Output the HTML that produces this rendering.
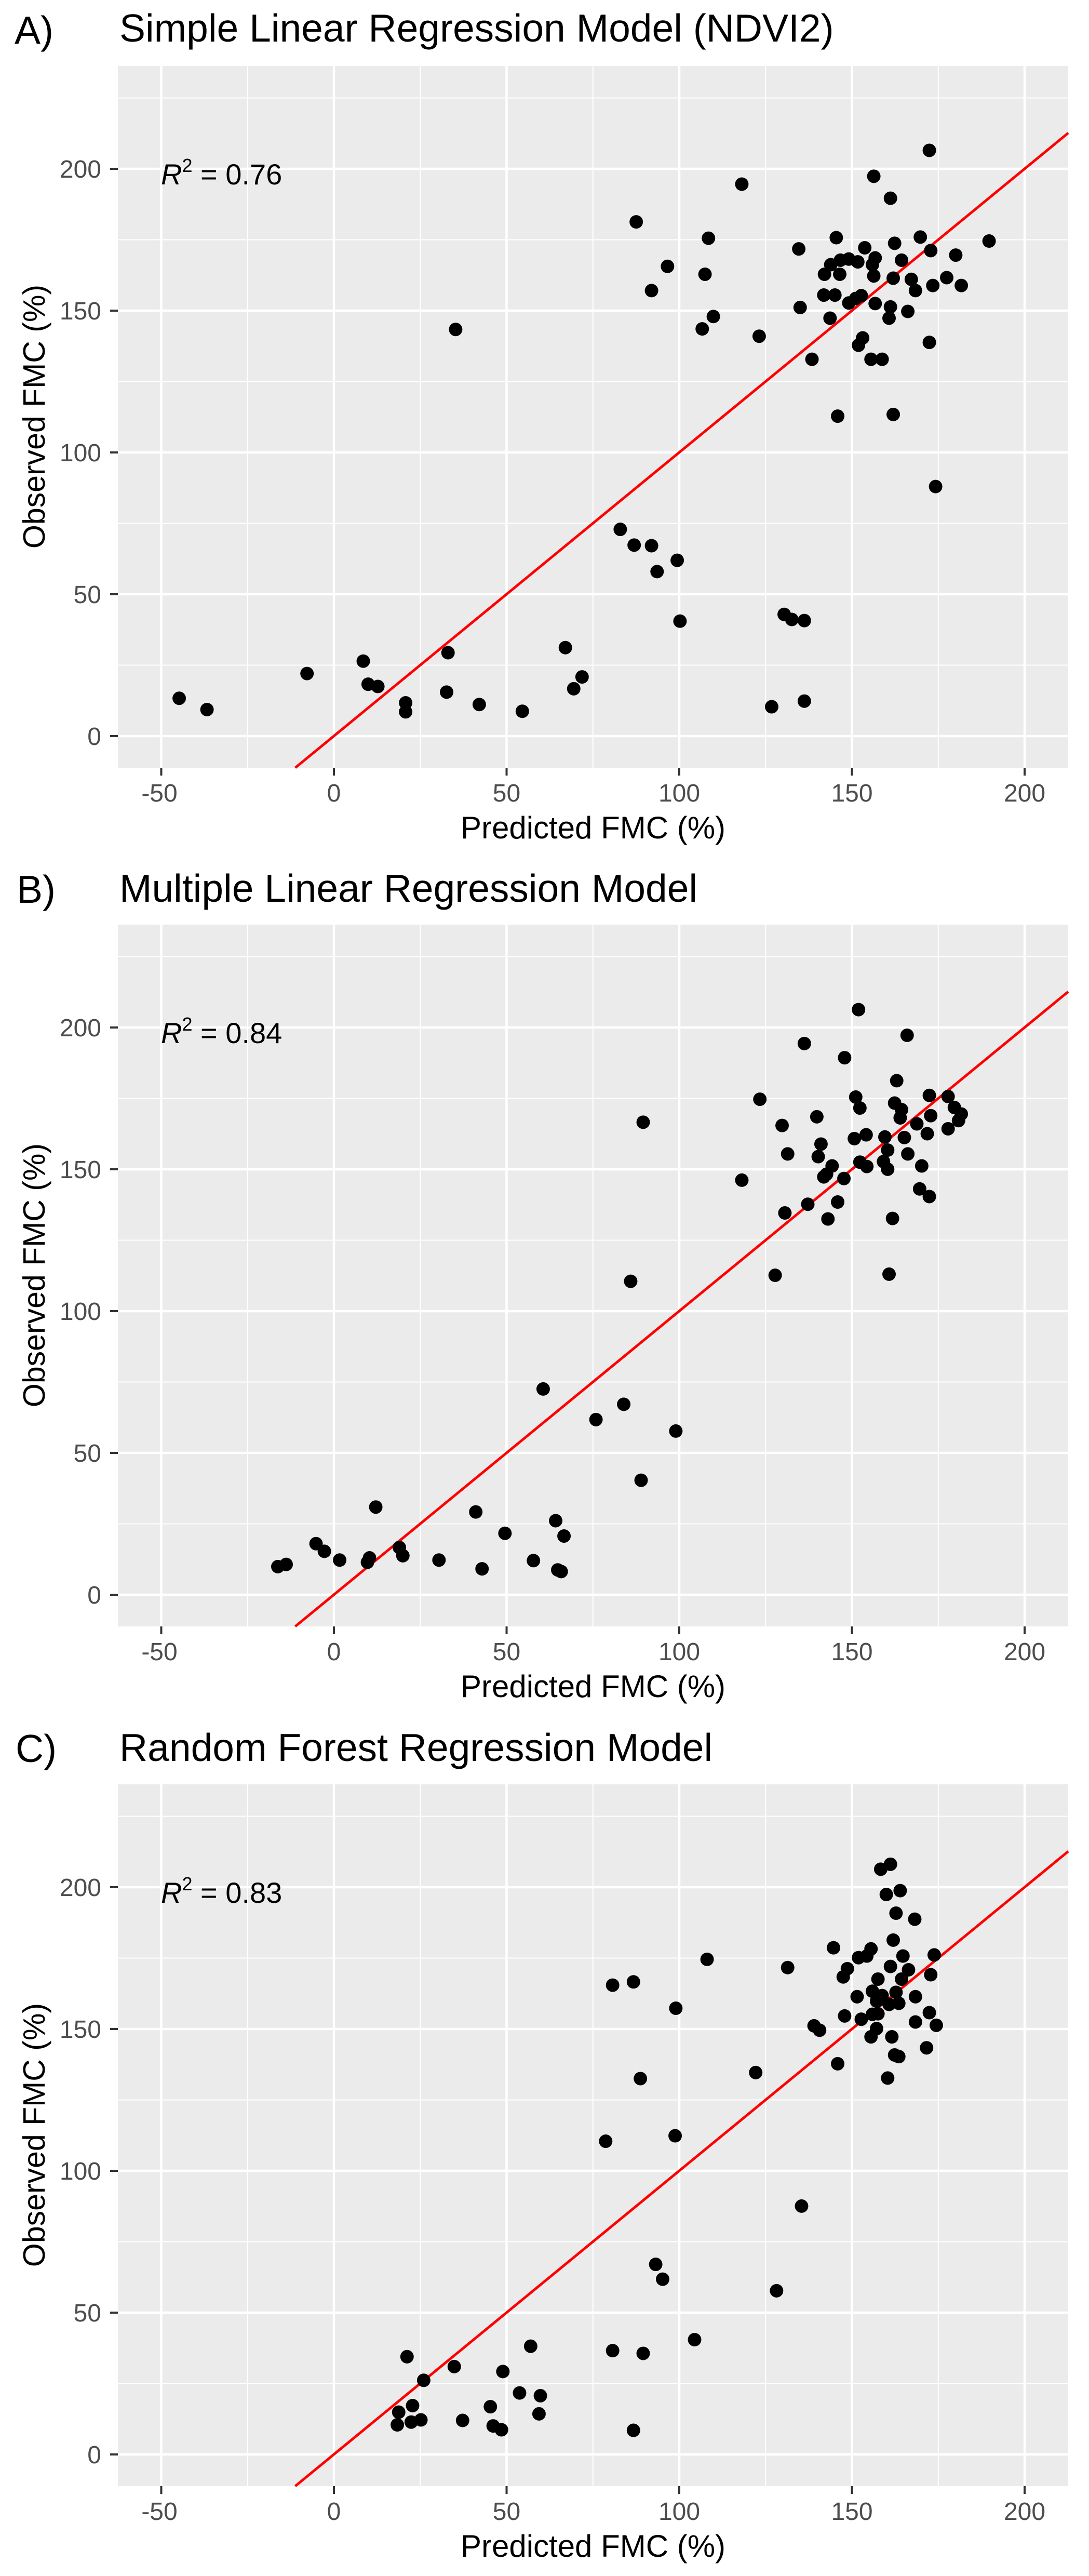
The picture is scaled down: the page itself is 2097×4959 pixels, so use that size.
<!DOCTYPE html>
<html><head><meta charset="utf-8"><style>
html,body{margin:0;padding:0;background:#fff;}
svg{display:block;}
text{font-family:"Liberation Sans",Arial,sans-serif;}
</style></head><body>
<svg width="2097" height="4959" viewBox="0 0 2097 4959" xmlns="http://www.w3.org/2000/svg">
<defs>
<g id="frame">
  <rect x="227" y="127" width="1830" height="1351" fill="#EBEBEB"/>
  <g stroke="#fff" stroke-width="2">
    <line x1="476.75" y1="127" x2="476.75" y2="1478"/>
    <line x1="809.25" y1="127" x2="809.25" y2="1478"/>
    <line x1="1141.75" y1="127" x2="1141.75" y2="1478"/>
    <line x1="1474.25" y1="127" x2="1474.25" y2="1478"/>
    <line x1="1806.75" y1="127" x2="1806.75" y2="1478"/>
    <line x1="227" y1="1280.5" x2="2057" y2="1280.5"/>
    <line x1="227" y1="1007.5" x2="2057" y2="1007.5"/>
    <line x1="227" y1="734.5" x2="2057" y2="734.5"/>
    <line x1="227" y1="461.5" x2="2057" y2="461.5"/>
    <line x1="227" y1="188.5" x2="2057" y2="188.5"/>
  </g>
  <g stroke="#fff" stroke-width="4.5">
    <line x1="310.5" y1="127" x2="310.5" y2="1478"/>
    <line x1="643" y1="127" x2="643" y2="1478"/>
    <line x1="975.5" y1="127" x2="975.5" y2="1478"/>
    <line x1="1308" y1="127" x2="1308" y2="1478"/>
    <line x1="1640.5" y1="127" x2="1640.5" y2="1478"/>
    <line x1="1973" y1="127" x2="1973" y2="1478"/>
    <line x1="227" y1="1417" x2="2057" y2="1417"/>
    <line x1="227" y1="1144" x2="2057" y2="1144"/>
    <line x1="227" y1="871" x2="2057" y2="871"/>
    <line x1="227" y1="598" x2="2057" y2="598"/>
    <line x1="227" y1="325" x2="2057" y2="325"/>
  </g>
  <g stroke="#333" stroke-width="4">
    <line x1="212" y1="1417" x2="227" y2="1417"/>
    <line x1="212" y1="1144" x2="227" y2="1144"/>
    <line x1="212" y1="871" x2="227" y2="871"/>
    <line x1="212" y1="598" x2="227" y2="598"/>
    <line x1="212" y1="325" x2="227" y2="325"/>
    <line x1="310.5" y1="1478" x2="310.5" y2="1493"/>
    <line x1="643" y1="1478" x2="643" y2="1493"/>
    <line x1="975.5" y1="1478" x2="975.5" y2="1493"/>
    <line x1="1308" y1="1478" x2="1308" y2="1493"/>
    <line x1="1640.5" y1="1478" x2="1640.5" y2="1493"/>
    <line x1="1973" y1="1478" x2="1973" y2="1493"/>
  </g>
  <g fill="#4D4D4D" font-size="48" text-anchor="end">
    <text x="195" y="1434">0</text>
    <text x="195" y="1161">50</text>
    <text x="195" y="888">100</text>
    <text x="195" y="615">150</text>
    <text x="195" y="342">200</text>
  </g>
  <g fill="#4D4D4D" font-size="48" text-anchor="middle">
    <text x="307" y="1543">-50</text>
    <text x="643" y="1543">0</text>
    <text x="975.5" y="1543">50</text>
    <text x="1308" y="1543">100</text>
    <text x="1640.5" y="1543">150</text>
    <text x="1973" y="1543">200</text>
  </g>
  <text x="1142" y="1614" font-size="60" text-anchor="middle" fill="#000">Predicted FMC (%)</text>
  <text transform="translate(86,802) rotate(-90)" font-size="59" text-anchor="middle" fill="#000">Observed FMC (%)</text>
  <line x1="568.5" y1="1478" x2="2057" y2="256" stroke="#FF0000" stroke-width="5"/>
</g>
</defs>

<!-- Panel A -->
<use href="#frame"/>
<text x="28" y="84" font-size="75" fill="#000">A)</text>
<text x="230" y="80" font-size="75" fill="#000">Simple Linear Regression Model (NDVI2)</text>
<text x="310" y="355" font-size="56" fill="#000"><tspan font-style="italic">R</tspan><tspan font-size="36" dy="-24">2</tspan><tspan dy="24"> = 0.76</tspan></text>
<g transform="scale(1.3375,1.0841)" fill="#000">
<ellipse cx="1338" cy="267" rx="9.7" ry="12"/><ellipse cx="1068" cy="327" rx="9.7" ry="12"/><ellipse cx="1258" cy="313" rx="9.7" ry="12"/><ellipse cx="1282" cy="352" rx="9.7" ry="12"/><ellipse cx="916" cy="394" rx="9.7" ry="12"/><ellipse cx="1020" cy="423" rx="9.7" ry="12"/><ellipse cx="1204" cy="422" rx="9.7" ry="12"/><ellipse cx="1325" cy="421" rx="9.7" ry="12"/><ellipse cx="1424" cy="428" rx="9.7" ry="12"/><ellipse cx="1150" cy="442" rx="9.7" ry="12"/><ellipse cx="1245" cy="440" rx="9.7" ry="12"/><ellipse cx="1288" cy="432" rx="9.7" ry="12"/><ellipse cx="1340" cy="445" rx="9.7" ry="12"/><ellipse cx="1376" cy="453" rx="9.7" ry="12"/><ellipse cx="961" cy="473" rx="9.7" ry="12"/><ellipse cx="1196" cy="470" rx="9.7" ry="12"/><ellipse cx="1210" cy="462" rx="9.7" ry="12"/><ellipse cx="1222" cy="460" rx="9.7" ry="12"/><ellipse cx="1235" cy="465" rx="9.7" ry="12"/><ellipse cx="1260" cy="458" rx="9.7" ry="12"/><ellipse cx="1298" cy="462" rx="9.7" ry="12"/><ellipse cx="1015" cy="487" rx="9.7" ry="12"/><ellipse cx="1187" cy="487" rx="9.7" ry="12"/><ellipse cx="1209" cy="487" rx="9.7" ry="12"/><ellipse cx="1256" cy="470" rx="9.7" ry="12"/><ellipse cx="1258" cy="490" rx="9.7" ry="12"/><ellipse cx="1286" cy="494" rx="9.7" ry="12"/><ellipse cx="1312" cy="496" rx="9.7" ry="12"/><ellipse cx="1363" cy="493" rx="9.7" ry="12"/><ellipse cx="938" cy="516" rx="9.7" ry="12"/><ellipse cx="1318" cy="516" rx="9.7" ry="12"/><ellipse cx="1343" cy="507" rx="9.7" ry="12"/><ellipse cx="1384" cy="507" rx="9.7" ry="12"/><ellipse cx="1186" cy="524" rx="9.7" ry="12"/><ellipse cx="1202" cy="524" rx="9.7" ry="12"/><ellipse cx="1222" cy="538" rx="9.7" ry="12"/><ellipse cx="1232" cy="530" rx="9.7" ry="12"/><ellipse cx="1240" cy="525" rx="9.7" ry="12"/><ellipse cx="1260" cy="539" rx="9.7" ry="12"/><ellipse cx="1282" cy="545" rx="9.7" ry="12"/><ellipse cx="1307" cy="553" rx="9.7" ry="12"/><ellipse cx="1152" cy="546" rx="9.7" ry="12"/><ellipse cx="1195" cy="565" rx="9.7" ry="12"/><ellipse cx="1280" cy="565" rx="9.7" ry="12"/><ellipse cx="1027" cy="562" rx="9.7" ry="12"/><ellipse cx="1011" cy="584" rx="9.7" ry="12"/><ellipse cx="656" cy="585" rx="9.7" ry="12"/><ellipse cx="1093" cy="597" rx="9.7" ry="12"/><ellipse cx="1242" cy="600" rx="9.7" ry="12"/><ellipse cx="1236" cy="613" rx="9.7" ry="12"/><ellipse cx="1338" cy="608" rx="9.7" ry="12"/><ellipse cx="1169" cy="638" rx="9.7" ry="12"/><ellipse cx="1254" cy="638" rx="9.7" ry="12"/><ellipse cx="1270" cy="638" rx="9.7" ry="12"/><ellipse cx="1206" cy="739" rx="9.7" ry="12"/><ellipse cx="1286" cy="736" rx="9.7" ry="12"/><ellipse cx="1347" cy="864" rx="9.7" ry="12"/><ellipse cx="893" cy="940" rx="9.7" ry="12"/><ellipse cx="913" cy="968" rx="9.7" ry="12"/><ellipse cx="938" cy="969" rx="9.7" ry="12"/><ellipse cx="975" cy="995" rx="9.7" ry="12"/><ellipse cx="946" cy="1015" rx="9.7" ry="12"/><ellipse cx="979" cy="1103" rx="9.7" ry="12"/><ellipse cx="1129" cy="1091" rx="9.7" ry="12"/><ellipse cx="1140" cy="1100" rx="9.7" ry="12"/><ellipse cx="1158" cy="1102" rx="9.7" ry="12"/><ellipse cx="814" cy="1150" rx="9.7" ry="12"/><ellipse cx="645" cy="1159" rx="9.7" ry="12"/><ellipse cx="523" cy="1174" rx="9.7" ry="12"/><ellipse cx="442" cy="1196" rx="9.7" ry="12"/><ellipse cx="530" cy="1215" rx="9.7" ry="12"/><ellipse cx="544" cy="1219" rx="9.7" ry="12"/><ellipse cx="838" cy="1202" rx="9.7" ry="12"/><ellipse cx="826" cy="1223" rx="9.7" ry="12"/><ellipse cx="643" cy="1229" rx="9.7" ry="12"/><ellipse cx="584" cy="1248" rx="9.7" ry="12"/><ellipse cx="584" cy="1264" rx="9.7" ry="12"/><ellipse cx="690" cy="1251" rx="9.7" ry="12"/><ellipse cx="752" cy="1263" rx="9.7" ry="12"/><ellipse cx="1111" cy="1255" rx="9.7" ry="12"/><ellipse cx="1158" cy="1245" rx="9.7" ry="12"/><ellipse cx="258" cy="1240" rx="9.7" ry="12"/><ellipse cx="298" cy="1260" rx="9.7" ry="12"/>
</g>

<!-- Panel B -->
<use href="#frame" transform="translate(0,1653)"/>
<text x="32" y="1738" font-size="75" fill="#000">B)</text>
<text x="230" y="1736" font-size="75" fill="#000">Multiple Linear Regression Model</text>
<text x="310" y="2008" font-size="56" fill="#000"><tspan font-style="italic">R</tspan><tspan font-size="36" dy="-24">2</tspan><tspan dy="24"> = 0.84</tspan></text>
<g transform="translate(0,1650) scale(1.3375,1.0523)" fill="#000">
<ellipse cx="1236" cy="279" rx="9.7" ry="12.35"/><ellipse cx="1306" cy="326" rx="9.7" ry="12.35"/><ellipse cx="1158" cy="341" rx="9.7" ry="12.35"/><ellipse cx="1216" cy="367" rx="9.7" ry="12.35"/><ellipse cx="1291" cy="409" rx="9.7" ry="12.35"/><ellipse cx="1094" cy="443" rx="9.7" ry="12.35"/><ellipse cx="1232" cy="439" rx="9.7" ry="12.35"/><ellipse cx="1338" cy="436" rx="9.7" ry="12.35"/><ellipse cx="1365" cy="438" rx="9.7" ry="12.35"/><ellipse cx="1238" cy="459" rx="9.7" ry="12.35"/><ellipse cx="1288" cy="450" rx="9.7" ry="12.35"/><ellipse cx="1298" cy="462" rx="9.7" ry="12.35"/><ellipse cx="1374" cy="458" rx="9.7" ry="12.35"/><ellipse cx="926" cy="485" rx="9.7" ry="12.35"/><ellipse cx="1126" cy="491" rx="9.7" ry="12.35"/><ellipse cx="1176" cy="475" rx="9.7" ry="12.35"/><ellipse cx="1296" cy="477" rx="9.7" ry="12.35"/><ellipse cx="1340" cy="473" rx="9.7" ry="12.35"/><ellipse cx="1384" cy="470" rx="9.7" ry="12.35"/><ellipse cx="1320" cy="488" rx="9.7" ry="12.35"/><ellipse cx="1380" cy="482" rx="9.7" ry="12.35"/><ellipse cx="1335" cy="506" rx="9.7" ry="12.35"/><ellipse cx="1365" cy="497" rx="9.7" ry="12.35"/><ellipse cx="1182" cy="525" rx="9.7" ry="12.35"/><ellipse cx="1230" cy="515" rx="9.7" ry="12.35"/><ellipse cx="1247" cy="508" rx="9.7" ry="12.35"/><ellipse cx="1274" cy="512" rx="9.7" ry="12.35"/><ellipse cx="1302" cy="513" rx="9.7" ry="12.35"/><ellipse cx="1134" cy="543" rx="9.7" ry="12.35"/><ellipse cx="1178" cy="548" rx="9.7" ry="12.35"/><ellipse cx="1198" cy="565" rx="9.7" ry="12.35"/><ellipse cx="1238" cy="558" rx="9.7" ry="12.35"/><ellipse cx="1248" cy="566" rx="9.7" ry="12.35"/><ellipse cx="1272" cy="557" rx="9.7" ry="12.35"/><ellipse cx="1278" cy="536" rx="9.7" ry="12.35"/><ellipse cx="1307" cy="543" rx="9.7" ry="12.35"/><ellipse cx="1327" cy="565" rx="9.7" ry="12.35"/><ellipse cx="1278" cy="571" rx="9.7" ry="12.35"/><ellipse cx="1068" cy="591" rx="9.7" ry="12.35"/><ellipse cx="1190" cy="580" rx="9.7" ry="12.35"/><ellipse cx="1186" cy="585" rx="9.7" ry="12.35"/><ellipse cx="1215" cy="588" rx="9.7" ry="12.35"/><ellipse cx="1324" cy="607" rx="9.7" ry="12.35"/><ellipse cx="1338" cy="621" rx="9.7" ry="12.35"/><ellipse cx="1130" cy="651" rx="9.7" ry="12.35"/><ellipse cx="1163" cy="635" rx="9.7" ry="12.35"/><ellipse cx="1206" cy="631" rx="9.7" ry="12.35"/><ellipse cx="1192" cy="662" rx="9.7" ry="12.35"/><ellipse cx="1285" cy="661" rx="9.7" ry="12.35"/><ellipse cx="908" cy="776" rx="9.7" ry="12.35"/><ellipse cx="1116" cy="765" rx="9.7" ry="12.35"/><ellipse cx="1280" cy="763" rx="9.7" ry="12.35"/><ellipse cx="782" cy="973" rx="9.7" ry="12.35"/><ellipse cx="898" cy="1001" rx="9.7" ry="12.35"/><ellipse cx="858" cy="1029" rx="9.7" ry="12.35"/><ellipse cx="973" cy="1050" rx="9.7" ry="12.35"/><ellipse cx="923" cy="1140" rx="9.7" ry="12.35"/><ellipse cx="541" cy="1189" rx="9.7" ry="12.35"/><ellipse cx="685" cy="1198" rx="9.7" ry="12.35"/><ellipse cx="800" cy="1214" rx="9.7" ry="12.35"/><ellipse cx="727" cy="1237" rx="9.7" ry="12.35"/><ellipse cx="812" cy="1242" rx="9.7" ry="12.35"/><ellipse cx="455" cy="1256" rx="9.7" ry="12.35"/><ellipse cx="467" cy="1270" rx="9.7" ry="12.35"/><ellipse cx="575" cy="1263" rx="9.7" ry="12.35"/><ellipse cx="580" cy="1278" rx="9.7" ry="12.35"/><ellipse cx="489" cy="1286" rx="9.7" ry="12.35"/><ellipse cx="532" cy="1282" rx="9.7" ry="12.35"/><ellipse cx="529" cy="1290" rx="9.7" ry="12.35"/><ellipse cx="632" cy="1286" rx="9.7" ry="12.35"/><ellipse cx="768" cy="1287" rx="9.7" ry="12.35"/><ellipse cx="694" cy="1302" rx="9.7" ry="12.35"/><ellipse cx="803" cy="1304" rx="9.7" ry="12.35"/><ellipse cx="808" cy="1307" rx="9.7" ry="12.35"/><ellipse cx="400" cy="1298" rx="9.7" ry="12.35"/><ellipse cx="412" cy="1294" rx="9.7" ry="12.35"/>
</g>

<!-- Panel C -->
<use href="#frame" transform="translate(0,3308)"/>
<text x="30" y="3392" font-size="75" fill="#000">C)</text>
<text x="230" y="3390" font-size="75" fill="#000">Random Forest Regression Model</text>
<text x="310" y="3663" font-size="56" fill="#000"><tspan font-style="italic">R</tspan><tspan font-size="36" dy="-24">2</tspan><tspan dy="24"> = 0.83</tspan></text>
<g transform="translate(0,3300) scale(1.3375,1.058)" fill="#000">
<ellipse cx="1268" cy="282" rx="9.7" ry="12.3"/><ellipse cx="1282" cy="273" rx="9.7" ry="12.3"/><ellipse cx="1276" cy="328" rx="9.7" ry="12.3"/><ellipse cx="1296" cy="321" rx="9.7" ry="12.3"/><ellipse cx="1290" cy="362" rx="9.7" ry="12.3"/><ellipse cx="1317" cy="373" rx="9.7" ry="12.3"/><ellipse cx="1200" cy="425" rx="9.7" ry="12.3"/><ellipse cx="1254" cy="427" rx="9.7" ry="12.3"/><ellipse cx="1286" cy="411" rx="9.7" ry="12.3"/><ellipse cx="1236" cy="443" rx="9.7" ry="12.3"/><ellipse cx="1248" cy="440" rx="9.7" ry="12.3"/><ellipse cx="1300" cy="440" rx="9.7" ry="12.3"/><ellipse cx="1345" cy="438" rx="9.7" ry="12.3"/><ellipse cx="1018" cy="446" rx="9.7" ry="12.3"/><ellipse cx="1134" cy="461" rx="9.7" ry="12.3"/><ellipse cx="1220" cy="463" rx="9.7" ry="12.3"/><ellipse cx="1282" cy="459" rx="9.7" ry="12.3"/><ellipse cx="1308" cy="465" rx="9.7" ry="12.3"/><ellipse cx="1340" cy="474" rx="9.7" ry="12.3"/><ellipse cx="1214" cy="478" rx="9.7" ry="12.3"/><ellipse cx="1264" cy="482" rx="9.7" ry="12.3"/><ellipse cx="1298" cy="482" rx="9.7" ry="12.3"/><ellipse cx="882" cy="493" rx="9.7" ry="12.3"/><ellipse cx="912" cy="487" rx="9.7" ry="12.3"/><ellipse cx="973" cy="535" rx="9.7" ry="12.3"/><ellipse cx="1234" cy="514" rx="9.7" ry="12.3"/><ellipse cx="1256" cy="504" rx="9.7" ry="12.3"/><ellipse cx="1270" cy="512" rx="9.7" ry="12.3"/><ellipse cx="1290" cy="506" rx="9.7" ry="12.3"/><ellipse cx="1318" cy="514" rx="9.7" ry="12.3"/><ellipse cx="1262" cy="522" rx="9.7" ry="12.3"/><ellipse cx="1280" cy="528" rx="9.7" ry="12.3"/><ellipse cx="1294" cy="526" rx="9.7" ry="12.3"/><ellipse cx="1216" cy="549" rx="9.7" ry="12.3"/><ellipse cx="1240" cy="555" rx="9.7" ry="12.3"/><ellipse cx="1256" cy="546" rx="9.7" ry="12.3"/><ellipse cx="1264" cy="545" rx="9.7" ry="12.3"/><ellipse cx="1338" cy="543" rx="9.7" ry="12.3"/><ellipse cx="1318" cy="560" rx="9.7" ry="12.3"/><ellipse cx="1348" cy="566" rx="9.7" ry="12.3"/><ellipse cx="1172" cy="567" rx="9.7" ry="12.3"/><ellipse cx="1180" cy="575" rx="9.7" ry="12.3"/><ellipse cx="1254" cy="587" rx="9.7" ry="12.3"/><ellipse cx="1262" cy="572" rx="9.7" ry="12.3"/><ellipse cx="1284" cy="587" rx="9.7" ry="12.3"/><ellipse cx="1206" cy="636" rx="9.7" ry="12.3"/><ellipse cx="1288" cy="620" rx="9.7" ry="12.3"/><ellipse cx="1294" cy="623" rx="9.7" ry="12.3"/><ellipse cx="1334" cy="607" rx="9.7" ry="12.3"/><ellipse cx="1088" cy="652" rx="9.7" ry="12.3"/><ellipse cx="922" cy="663" rx="9.7" ry="12.3"/><ellipse cx="1278" cy="662" rx="9.7" ry="12.3"/><ellipse cx="872" cy="777" rx="9.7" ry="12.3"/><ellipse cx="972" cy="767" rx="9.7" ry="12.3"/><ellipse cx="1154" cy="895" rx="9.7" ry="12.3"/><ellipse cx="944" cy="1001" rx="9.7" ry="12.3"/><ellipse cx="954" cy="1028" rx="9.7" ry="12.3"/><ellipse cx="1118" cy="1049" rx="9.7" ry="12.3"/><ellipse cx="1000" cy="1138" rx="9.7" ry="12.3"/><ellipse cx="882" cy="1158" rx="9.7" ry="12.3"/><ellipse cx="926" cy="1163" rx="9.7" ry="12.3"/><ellipse cx="764" cy="1150" rx="9.7" ry="12.3"/><ellipse cx="586" cy="1169" rx="9.7" ry="12.3"/><ellipse cx="654" cy="1187" rx="9.7" ry="12.3"/><ellipse cx="724" cy="1196" rx="9.7" ry="12.3"/><ellipse cx="610" cy="1212" rx="9.7" ry="12.3"/><ellipse cx="748" cy="1235" rx="9.7" ry="12.3"/><ellipse cx="778" cy="1240" rx="9.7" ry="12.3"/><ellipse cx="706" cy="1260" rx="9.7" ry="12.3"/><ellipse cx="594" cy="1258" rx="9.7" ry="12.3"/><ellipse cx="574" cy="1270" rx="9.7" ry="12.3"/><ellipse cx="572" cy="1293" rx="9.7" ry="12.3"/><ellipse cx="592" cy="1288" rx="9.7" ry="12.3"/><ellipse cx="606" cy="1284" rx="9.7" ry="12.3"/><ellipse cx="666" cy="1285" rx="9.7" ry="12.3"/><ellipse cx="776" cy="1273" rx="9.7" ry="12.3"/><ellipse cx="710" cy="1295" rx="9.7" ry="12.3"/><ellipse cx="722" cy="1302" rx="9.7" ry="12.3"/><ellipse cx="912" cy="1303" rx="9.7" ry="12.3"/>
</g>
</svg>
</body></html>
